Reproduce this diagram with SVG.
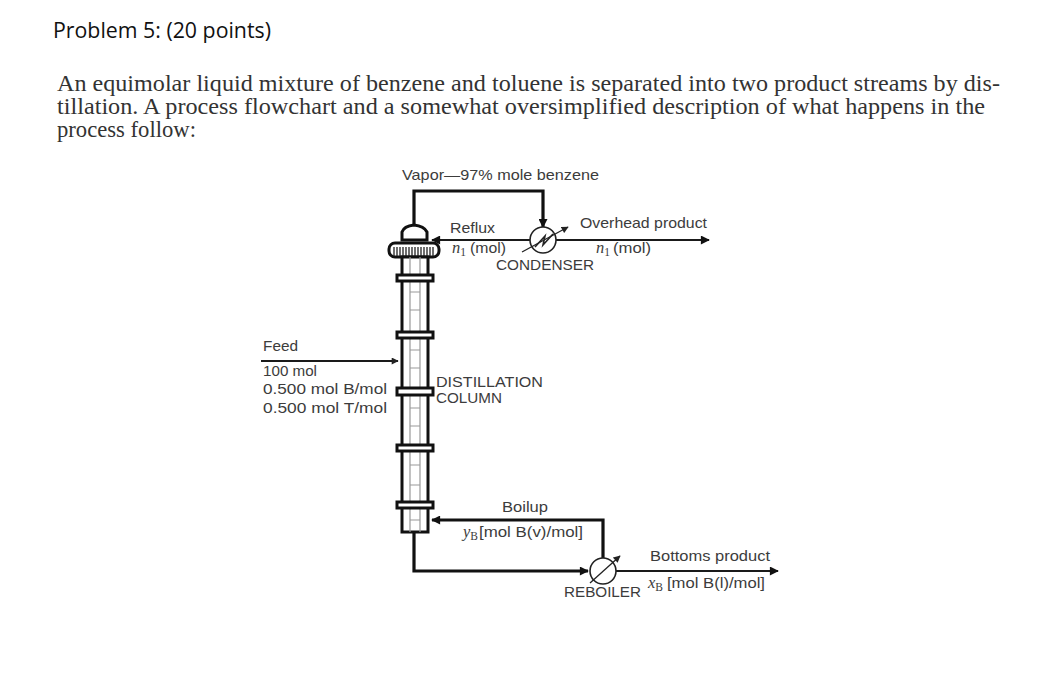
<svg xmlns="http://www.w3.org/2000/svg" width="1052" height="686" viewBox="0 0 1052 686">
<style>
.hand{font-family:"Open Sans","Noto Sans",sans-serif;font-size:21px;fill:#111}
.body{font-family:"Liberation Serif",serif;font-size:22.5px;fill:#333}
.lab{font-family:"Liberation Sans",sans-serif;font-size:14.5px;fill:#3c3c3c}
.ital{font-family:"Liberation Serif",serif;font-style:italic;font-size:16.5px;fill:#3c3c3c}
.sub{font-size:11.5px;font-style:normal}
.thick{fill:none;stroke:#111;stroke-width:3.2}
.thin{fill:none;stroke:#1a1a1a;stroke-width:2}
.wall{fill:#fff;stroke:#111;stroke-width:3}
.tray{fill:none;stroke:#999;stroke-width:1.2}
.thinn{fill:none;stroke:#222;stroke-width:1.3}
</style>
<defs>
<marker id="a" viewBox="0 0 10 10" refX="9" refY="5" markerWidth="11" markerHeight="9" markerUnits="userSpaceOnUse" orient="auto"><path d="M0 0L10 5L0 10Z" fill="#111"/></marker>
<marker id="s" viewBox="0 0 10 10" refX="9" refY="5" markerWidth="8" markerHeight="7" markerUnits="userSpaceOnUse" orient="auto"><path d="M0 0L10 5L0 10Z" fill="#222"/></marker>
</defs>
<rect width="1052" height="686" fill="#fff"/>
<g id="problem-text">
<text class="hand" x="53" y="38" textLength="218" lengthAdjust="spacingAndGlyphs">Problem 5: (20 points)</text>
<text class="body" x="57" y="91" textLength="943" lengthAdjust="spacingAndGlyphs">An equimolar liquid mixture of benzene and toluene is separated into two product streams by dis-</text>
<text class="body" x="57" y="114" textLength="928" lengthAdjust="spacingAndGlyphs">tillation. A process flowchart and a somewhat oversimplified description of what happens in the</text>
<text class="body" x="57" y="137" textLength="139" lengthAdjust="spacingAndGlyphs">process follow:</text>
</g>
<g id="connectors">
<path class="thick" d="M414 226V191H543V227" marker-end="url(#a)"/>
<path class="thin" d="M530 240H432" marker-end="url(#a)"/>
<path class="thin" d="M556 240H709" marker-end="url(#a)"/>
<path class="thin" d="M261 361H398" marker-end="url(#s)"/>
<path class="thick" d="M603 558V520H432" marker-end="url(#a)"/>
<path class="thick" d="M414 532V571H588" marker-end="url(#a)"/>
<path class="thin" d="M616 571H778" marker-end="url(#a)"/>
</g>
<g id="column">
<path class="wall" d="M402 240V232Q404 226 414 225Q424 226 427 232V240Z"/>
<rect class="wall" x="389" y="243" width="50" height="14" rx="6"/>
<path d="M394 247V256M397 247V256M400 247V256M403 247V256M406 247V256M409 247V256M412 247V256M415 247V256M418 247V256M421 247V256M424 247V256M427 247V256M430 247V256M433 247V256" stroke="#222" stroke-width="1.3"/>
<rect class="wall" x="402" y="257" width="26" height="275"/>
<path class="tray" d="M410 257V532M420 257V532M410 292H420M410 310H420M410 350H420M410 368H420M410 408H420M410 426H420M410 465H420M410 485H420M410 520H420"/>
<rect class="wall" x="397" y="275" width="36" height="6"/>
<rect class="wall" x="397" y="332" width="36" height="6"/>
<rect class="wall" x="397" y="388" width="36" height="7"/>
<rect class="wall" x="397" y="445" width="36" height="6"/>
<rect class="wall" x="397" y="502" width="36" height="6"/>
</g>
<g id="condenser">
<circle cx="543" cy="240" r="13" fill="#fff" stroke="#222" stroke-width="1.6"/>
<path class="thinn" d="M522 252L568 227" marker-end="url(#s)"/>
<path d="M535 247L545 236L543 245L553 234" fill="none" stroke="#222" stroke-width="1.6"/>
</g>
<g id="reboiler">
<circle cx="603" cy="571" r="13" fill="#fff" stroke="#222" stroke-width="1.6"/>
<path class="thinn" d="M590 583L620 556" marker-end="url(#s)"/>
</g>
<g id="labels">
<text class="lab" x="402" y="180" textLength="197" lengthAdjust="spacingAndGlyphs">Vapor—97% mole benzene</text>
<text class="lab" x="450" y="233" textLength="45" lengthAdjust="spacingAndGlyphs">Reflux</text>
<text class="ital" x="452" y="253">n<tspan class="sub" dy="3">1</tspan></text>
<text class="lab" x="470" y="253" textLength="36" lengthAdjust="spacingAndGlyphs">(mol)</text>
<text class="lab" x="496" y="270" textLength="98" lengthAdjust="spacingAndGlyphs">CONDENSER</text>
<text class="lab" x="580" y="228" textLength="127" lengthAdjust="spacingAndGlyphs">Overhead product</text>
<text class="ital" x="596" y="253">n<tspan class="sub" dy="3">1</tspan></text>
<text class="lab" x="613" y="253" textLength="38" lengthAdjust="spacingAndGlyphs">(mol)</text>
<text class="lab" x="263" y="351" textLength="35" lengthAdjust="spacingAndGlyphs">Feed</text>
<text class="lab" x="263" y="376" textLength="54" lengthAdjust="spacingAndGlyphs">100 mol</text>
<text class="lab" x="263" y="394" textLength="124" lengthAdjust="spacingAndGlyphs">0.500 mol B/mol</text>
<text class="lab" x="263" y="413" textLength="124" lengthAdjust="spacingAndGlyphs">0.500 mol T/mol</text>
<text class="lab" x="436" y="387" textLength="107" lengthAdjust="spacingAndGlyphs">DISTILLATION</text>
<text class="lab" x="436" y="403" textLength="66" lengthAdjust="spacingAndGlyphs">COLUMN</text>
<text class="lab" x="502" y="512" textLength="46" lengthAdjust="spacingAndGlyphs">Boilup</text>
<text class="ital" x="463" y="537">y<tspan class="sub" dy="3">B</tspan></text>
<text class="lab" x="479" y="537" textLength="104" lengthAdjust="spacingAndGlyphs">[mol B(v)/mol]</text>
<text class="lab" x="650" y="561" textLength="120" lengthAdjust="spacingAndGlyphs">Bottoms product</text>
<text class="ital" x="648" y="588">x<tspan class="sub" dy="3">B</tspan></text>
<text class="lab" x="667" y="588" textLength="98" lengthAdjust="spacingAndGlyphs">[mol B(l)/mol]</text>
<text class="lab" x="564" y="597" textLength="77" lengthAdjust="spacingAndGlyphs">REBOILER</text>
</g>
</svg>
